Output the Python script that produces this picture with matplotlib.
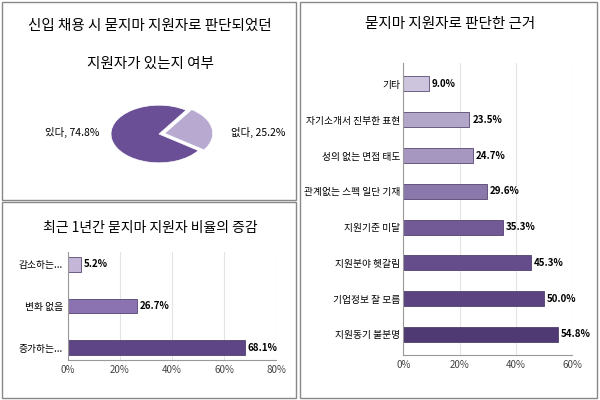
import matplotlib.pyplot as plt
from matplotlib import font_manager
from matplotlib.patches import Rectangle

cjk = [f.name for f in font_manager.fontManager.ttflist if "CJK" in f.name]
plt.rcParams["font.family"] = ("Noto Sans CJK KR" if "Noto Sans CJK KR" in cjk else (cjk[0] if cjk else "DejaVu Sans"))

pie_labels = ["있다", "없다"]
pie_values = [74.8, 25.2]

change_labels = ["증가하는...", "변화 없음", "감소하는..."]
change_values = [68.1, 26.7, 5.2]

reason_labels = ["지원동기 불분명", "기업정보 잘 모름", "지원분야 헷갈림", "지원기준 미달",
                 "관계없는 스펙 일단 기재", "성의 없는 면접 태도", "자기소개서 진부한 표현", "기타"]
reason_values = [54.8, 50.0, 45.3, 35.3, 29.6, 24.7, 23.5, 9.0]

fig = plt.figure(figsize=(6, 4), dpi=100)
fig.patch.set_facecolor("white")

# panel borders
for x, y, w, h in [(0.003, 0.5, 0.49, 0.495), (0.003, 0.005, 0.49, 0.49), (0.5, 0.005, 0.495, 0.99)]:
    fig.add_artist(Rectangle((x, y), w, h, transform=fig.transFigure, fill=False,
                             edgecolor="#888888", lw=1))

# pie
fig.text(0.25, 0.925, "신입 채용 시 묻지마 지원자로 판단되었던", ha="center", fontsize=10.5)
fig.text(0.25, 0.83, "지원자가 있는지 여부", ha="center", fontsize=10.5)
ax1 = fig.add_axes([0.165, 0.53, 0.2, 0.27])
ax1.pie(pie_values[::-1], colors=["#b8a9d0", "#6a4f96"], startangle=-35,
        explode=[0.12, 0], wedgeprops=dict(edgecolor="white", linewidth=0.5))
ax1.set_aspect(0.6)
fig.text(0.165, 0.66, f"{pie_labels[0]}, {pie_values[0]}%", ha="right", fontsize=7.5)
fig.text(0.385, 0.66, f"{pie_labels[1]}, {pie_values[1]}%", ha="left", fontsize=7.5)


def style(ax, xmax, step):
    ax.set_xlim(0, xmax)
    ax.set_xticks(range(0, xmax + 1, step))
    ax.set_xticklabels([f"{t}%" for t in range(0, xmax + 1, step)], fontsize=7, color="#444444")
    ax.grid(axis="x", color="#e4e4e4", lw=0.8)
    ax.set_axisbelow(True)
    for s in ["top", "right"]:
        ax.spines[s].set_visible(False)
    ax.spines["left"].set_color("#999999")
    ax.spines["bottom"].set_color("#999999")
    ax.tick_params(length=0)


# change bars
fig.text(0.25, 0.42, "최근 1년간 묻지마 지원자 비율의 증감", ha="center", fontsize=10)
ax2 = fig.add_axes([0.113, 0.1, 0.347, 0.27])
c2 = ["#5e4585", "#8a73b0", "#c3b6d6"]
ax2.barh(change_labels, change_values, color=c2, height=0.35, edgecolor="#3e2c5e", lw=0.5)
for i, v in enumerate(change_values):
    ax2.text(v + 1, i, f"{v}%", va="center", fontsize=7, fontweight="bold")
style(ax2, 80, 20)
ax2.tick_params(axis="y", labelsize=7)

# reasons
fig.text(0.75, 0.93, "묻지마 지원자로 판단한 근거", ha="center", fontsize=10.5)
ax3 = fig.add_axes([0.672, 0.112, 0.282, 0.73])
c3 = ["#4f3a73", "#5a4380", "#654d8c", "#715a96", "#8a78ab", "#a597bf", "#b3a7c9", "#cdc5dd"]
ax3.barh(reason_labels, reason_values, color=c3, height=0.42, edgecolor="#3e2c5e", lw=0.5)
for i, v in enumerate(reason_values):
    ax3.text(v + 1, i, f"{v:.1f}%", va="center", fontsize=7, fontweight="bold")
style(ax3, 60, 20)
ax3.tick_params(axis="y", labelsize=7, pad=2)

fig.savefig("out.png", dpi=100)
